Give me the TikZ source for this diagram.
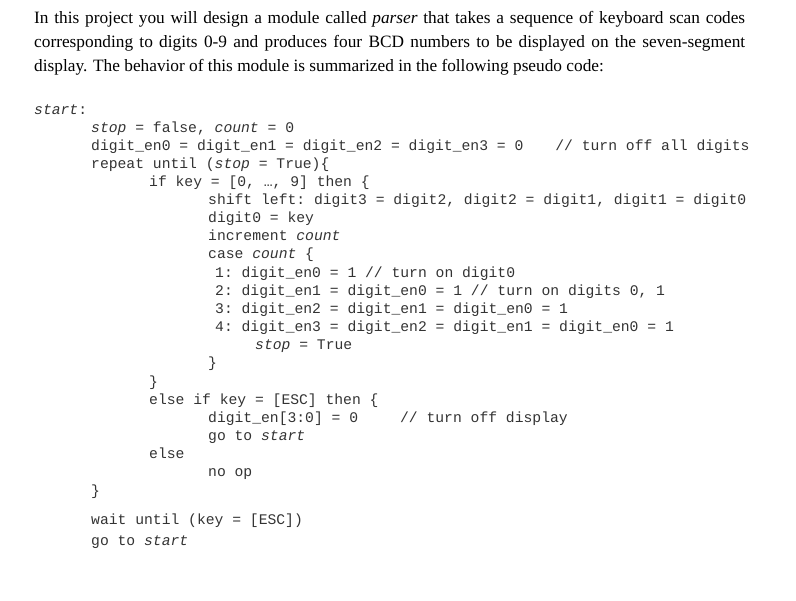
\documentclass[tikz,border=0pt]{standalone}
\usepackage{fontspec}
\setmainfont{Liberation Serif}
\setmonofont{Liberation Mono}
\begin{document}
\begin{tikzpicture}[x=1pt,y=-1pt,
  para/.style={anchor=base west,inner sep=0pt,font=\fontsize{17.3}{20}\selectfont,text=black},
  code/.style={anchor=base west,inner sep=0pt,font=\fontsize{14.7}{16}\ttfamily,text=black!80}]
\useasboundingbox (0,0) rectangle (796,601);
\node[para] (p1) at (34,24) {\makebox[711pt][s]{In this project you will design a module called \textit{parser} that takes a sequence of keyboard scan codes}};
\node[para] (p2) at (34,48) {\makebox[711pt][s]{corresponding to digits 0-9 and produces four BCD numbers to be displayed on the seven-segment}};
\node[para] (p3) at (34,72) {display. The behavior of this module is summarized in the following pseudo code:};
\node[code] (c1) at (34,115) {\textit{start}:};
\node[code] (c2) at (91,133) {\textit{stop} = false, \textit{count} = 0};
\node[code] (c3) at (91,151) {digit\_en0 = digit\_en1 = digit\_en2 = digit\_en3 = 0\hspace{32pt}// turn off all digits};
\node[code] (c4) at (91,169) {repeat until (\textit{stop} = True)\{};
\node[code] (c5) at (149,187) {if key = [0, …, 9] then \{};
\node[code] (c6) at (208,205) {shift left: digit3 = digit2, digit2 = digit1, digit1 = digit0};
\node[code] (c7) at (208,223) {digit0 = key};
\node[code] (c8) at (208,241) {increment \textit{count}};
\node[code] (c9) at (208,259) {case \textit{count} \{};
\node[code] (c10) at (215,278) {1: digit\_en0 = 1 // turn on digit0};
\node[code] (c11) at (215,296) {2: digit\_en1 = digit\_en0 = 1 // turn on digits 0, 1};
\node[code] (c12) at (215,314) {3: digit\_en2 = digit\_en1 = digit\_en0 = 1};
\node[code] (c13) at (215,332) {4: digit\_en3 = digit\_en2 = digit\_en1 = digit\_en0 = 1};
\node[code] (c14) at (255,350) {\textit{stop} = True};
\node[code] (c15) at (208,368) {\}};
\node[code] (c16) at (149,387) {\}};
\node[code] (c17) at (149,405) {else if key = [ESC] then \{};
\node[code] (c18) at (208,423) {digit\_en[3:0] = 0\hspace{42pt}// turn off display};
\node[code] (c19) at (208,441) {go to \textit{start}};
\node[code] (c20) at (149,459) {else};
\node[code] (c21) at (208,477) {no op};
\node[code] (c22) at (91,496) {\}};
\node[code] (c23) at (91,525) {wait until (key = [ESC])};
\node[code] (c24) at (91,546) {go to \textit{start}};
\end{tikzpicture}
\end{document}
